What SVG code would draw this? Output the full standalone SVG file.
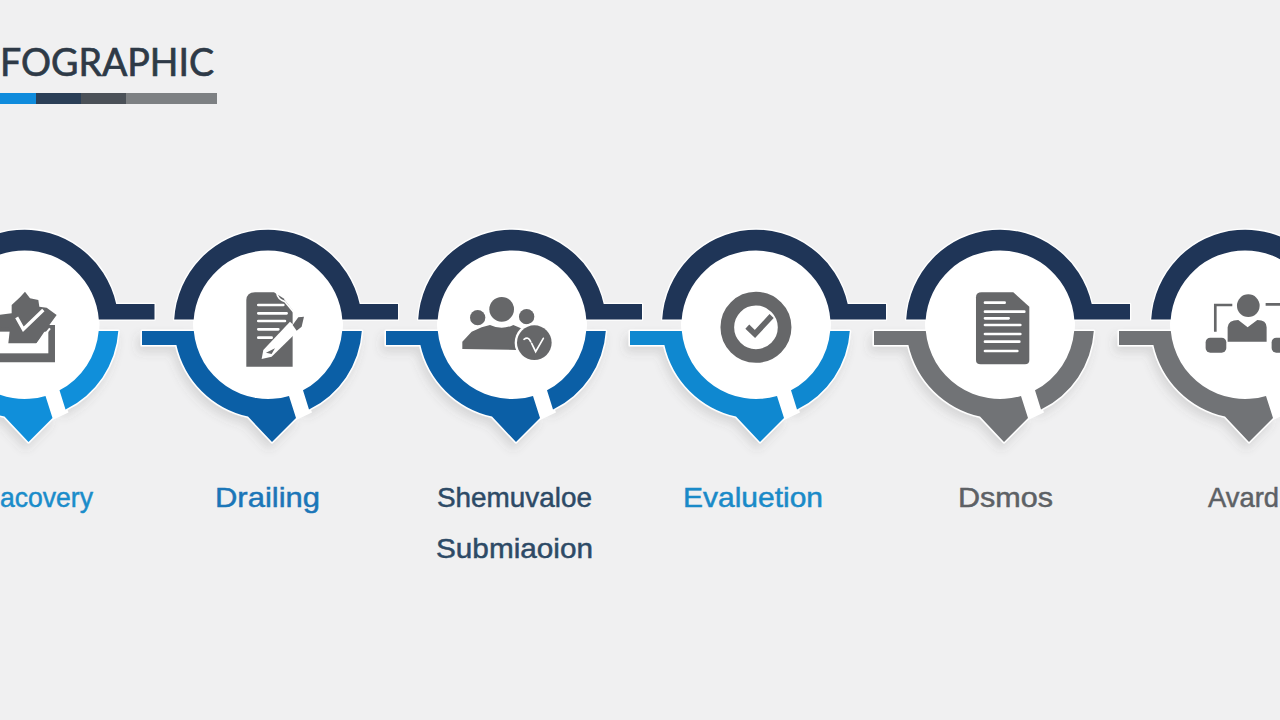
<svg xmlns="http://www.w3.org/2000/svg" xmlns:xlink="http://www.w3.org/1999/xlink" width="1280" height="720" viewBox="0 0 1280 720">
<style>
.halo{fill:#fff;stroke:#fff;stroke-width:3;stroke-linejoin:round}
.g{fill:#666769}
.w{fill:none;stroke:#fff;stroke-linecap:round;stroke-width:8}
.l{font-family:"Liberation Sans",Arial,sans-serif;font-size:28px;stroke-width:.5px}
.navy{fill:#1f3557}.sky{fill:#108fda}.blue{fill:#0b5fa6}.mid{fill:#0f88d0}.grey{fill:#717376}
</style>
<defs>
<filter id="sh" x="-30%" y="-30%" width="160%" height="170%"><feDropShadow dx="-3" dy="6" stdDeviation="5" flood-color="#555" flood-opacity=".16"/></filter>
<path id="top" d="M-93.8,-5A94,95.5 0 0 1 91.7,-20.5L130,-20.5L130,-5L74.3,-5A74.5,74.5 0 0 0 -74.3,-5Z"/>
<path id="low" d="M-126,6.5L-74.2,6.5A74.5,74.5 0 0 0 21,71.5L28,93.5L4,117.5L-20,92A94,94 0 0 1 -91.6,20.5L-126,20.5Z"/>
<path id="arc" d="M74.2,6.5L93.8,6.5A94,94 0 0 1 41,85L35,65.8A74.5,74.5 0 0 0 74.2,6.5Z"/>
<g id="ring">
<g filter="url(#sh)"><use href="#low" class="halo"/><use href="#arc" class="halo"/></g>
<use href="#top" class="halo" style="stroke-width:2.5"/>
<path d="M15,70L35,62L44,88L27,96Z" fill="#fff"/>
<circle r="75" fill="#fff"/>
<use href="#top" class="navy"/>
</g>
</defs>
<rect width="1280" height="720" fill="#f0f0f1"/>
<g id="title">
<text x="0" y="76" font-family="Lato,sans-serif" font-size="38" fill="#2e3a47" stroke="#2e3a47" stroke-width=".7" textLength="214" lengthAdjust="spacingAndGlyphs">FOGRAPHIC</text>
<rect x="0" y="93" width="36" height="11" fill="#0f8bdc"/>
<rect x="36" y="93" width="45" height="11" fill="#2b3f57"/>
<rect x="81" y="93" width="45" height="11" fill="#4b5158"/>
<rect x="126" y="93" width="91" height="11" fill="#7d8083"/>
</g>
<g id="connectors"></g>
<g id="node1">
<g transform="translate(24.5,324.5)"><use href="#ring"/><use href="#low" class="sky"/><use href="#arc" class="sky"/></g>
<g transform="translate(0,210) scale(.3333)">
<path class="g" d="M-10,345H165V457H-10Z"/><rect x="-10" y="365" width="155" height="65" fill="#fff"/>
<path class="g" d="M35,285L60,262L75,245L90,265L115,270L118,290L140,293L170,315L130,370L110,400L25,400L30,355L0,350L-5,315L35,310Z"/>
<path d="M50,322L70,358L130,300" fill="none" stroke="#fff" stroke-width="10"/>
<path d="M105,410L150,355" fill="none" stroke="#fff" stroke-width="6"/>
</g>
<text class="l" x="0" y="507" fill="#1a8cca" stroke="#1a8cca" textLength="93" lengthAdjust="spacingAndGlyphs">acovery</text>
</g>
<g id="node2">
<g transform="translate(268,324.5)"><use href="#ring"/><use href="#low" class="blue"/><use href="#arc" class="blue"/></g>
<g transform="translate(0,210) scale(.3333)">
<path class="g" d="M739,270Q740,248 765,247L822,247L850,265L878,300V470H739Z"/>
<path class="w" d="M775,285H850M775,310H860M775,333H855M775,358H835M775,383H815"/>
<path class="w" style="stroke-width:5" d="M830,246Q832,268 855,275L880,305"/>
<path d="M785,447L790,420L870,335L897,360L815,440Z" fill="#fff"/>
<path class="g" d="M878,345L895,322L912,320L905,350L890,362ZM798,428L825,415L815,432Z"/>
</g>
<text class="l" x="215" y="507" fill="#1b76b8" stroke="#1b76b8" textLength="105" lengthAdjust="spacingAndGlyphs">Drailing</text>
</g>
<g id="node3">
<g transform="translate(512,324.5)"><use href="#ring"/><use href="#low" class="blue"/><use href="#arc" class="blue"/></g>
<g transform="translate(400,210) scale(.3333)">
<circle class="g" cx="305" cy="298" r="37"/><circle class="g" cx="233" cy="323" r="23"/><circle class="g" cx="380" cy="320" r="23"/>
<path class="g" d="M187,417L187,395L215,365L245,352L270,345Q305,362 340,345L370,358L350,420Z"/>
<circle cx="403" cy="398" r="59" fill="#fff"/><circle class="g" cx="403" cy="398" r="52"/>
<path class="w" style="stroke-width:5" d="M372,388Q385,378 392,395M395,400L407,425L430,385"/>
</g>
<text class="l" x="437" y="507" fill="#2d4a66" stroke="#2d4a66" textLength="155" lengthAdjust="spacingAndGlyphs">Shemuvaloe</text>
<text class="l" x="436" y="558" fill="#2d4a66" stroke="#2d4a66" textLength="157" lengthAdjust="spacingAndGlyphs">Submiaoion</text>
</g>
<g id="node4">
<g transform="translate(756,324.5)"><use href="#ring"/><use href="#low" class="mid"/><use href="#arc" class="mid"/></g>
<g transform="translate(400,210) scale(.3333)">
<circle cx="1068" cy="352" r="86" fill="none" stroke="#666769" stroke-width="41"/>
<path d="M1042,350L1065,372L1115,318" fill="none" stroke="#666769" stroke-width="17"/>
</g>
<text class="l" x="683" y="507" fill="#1a8ac8" stroke="#1a8ac8" textLength="140" lengthAdjust="spacingAndGlyphs">Evaluetion</text>
</g>
<g id="node5">
<g transform="translate(1000,324.5)"><use href="#ring"/><use href="#low" class="grey"/><use href="#arc" class="grey"/></g>
<g transform="translate(860,210) scale(.3333)">
<path class="g" d="M348,262Q348,247 365,247H460L508,290V450Q508,463 495,463H362Q348,463 348,450Z"/>
<path class="w" d="M375,278H434M375,305H493M375,325H446M375,345H481M375,372H481M375,395H478M375,423H472"/>
</g>
<text class="l" x="958" y="507" fill="#5d6165" stroke="#5d6165" textLength="95" lengthAdjust="spacingAndGlyphs">Dsmos</text>
</g>
<g id="node6">
<g transform="translate(1245,324.5)"><use href="#ring"/><use href="#low" class="grey"/><use href="#arc" class="grey"/></g>
<g transform="translate(860,210) scale(.3333)">
<circle class="g" cx="1165" cy="287" r="34"/>
<path class="g" d="M1103,395V352Q1105,330 1135,330L1163,352L1192,330Q1220,330 1220,352V395Z"/>
<path d="M1117,285H1066V365M1217,283H1270" fill="none" stroke="#666769" stroke-width="8"/>
<rect class="g" x="1037" y="383" width="62" height="45" rx="14"/>
<rect class="g" x="1235" y="383" width="62" height="45" rx="14"/>
</g>
<text class="l" x="1208" y="507" fill="#5d6165" stroke="#5d6165" textLength="71" lengthAdjust="spacingAndGlyphs">Avard</text>
</g>
</svg>
